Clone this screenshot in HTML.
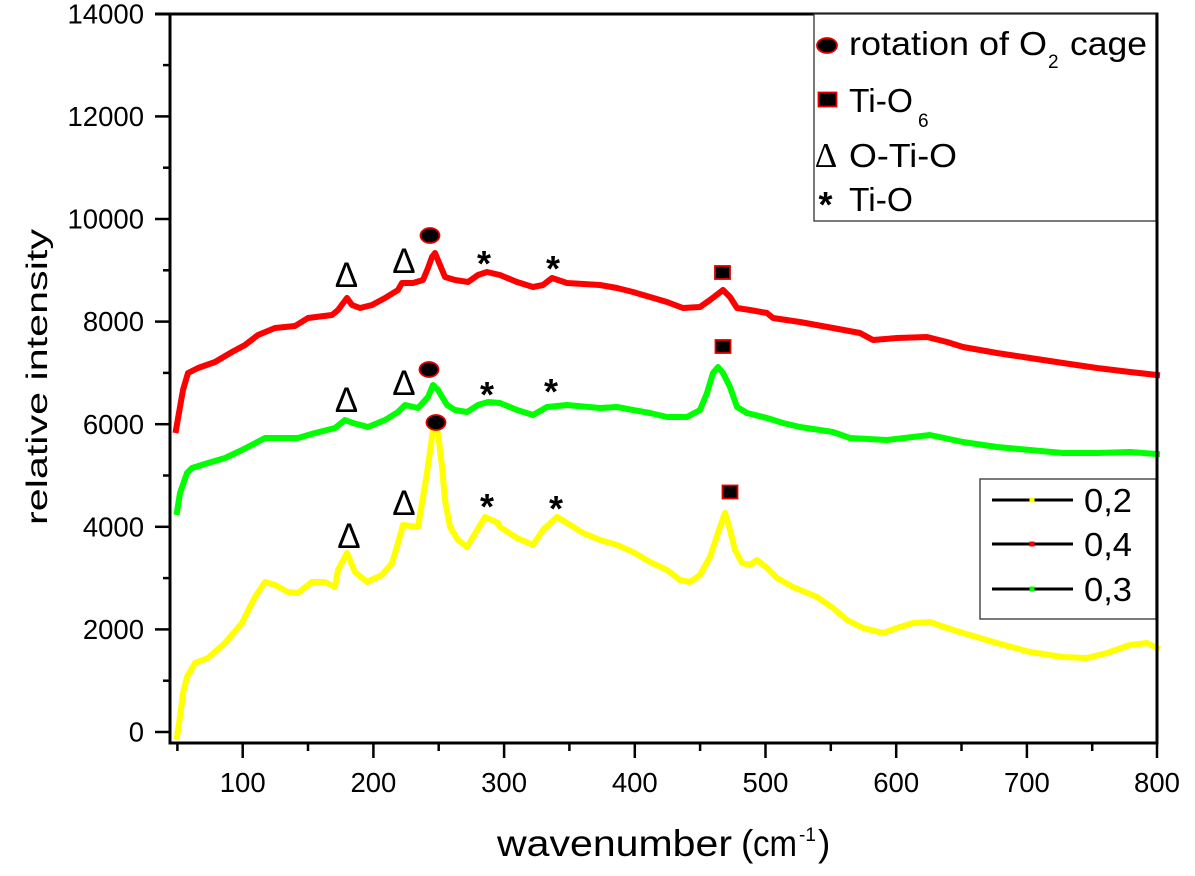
<!DOCTYPE html>
<html><head><meta charset="utf-8"><style>
html,body{margin:0;padding:0;background:#fff;}
svg{display:block;}
text{font-family:"Liberation Sans",Arial,sans-serif;fill:#000;}
</style></head><body>
<svg width="1195" height="876" viewBox="0 0 1195 876" xmlns="http://www.w3.org/2000/svg">
<rect width="1195" height="876" fill="#fff"/>

<!-- curves -->
<g fill="none" stroke-width="6" stroke-linejoin="round" stroke-linecap="square">
<polyline stroke="#ff0000" points="176,430 180,407 183,390 188,373 198,368 215,362 232,352 245,345 258,335 275,328 295,326 308,318 332,315 338,310 347,298 352,305 360,308 372,305 385,298 398,290 402,283 413,283 423,280 428,268 432,257 435,253 440,265 445,277 455,280 468,282 478,275 487,272 500,275 517,282 533,287 543,285 552,278 567,283 600,285 617,288 633,292 650,297 667,302 683,308 700,307 710,300 723,290 730,297 737,308 750,310 767,313 773,318 800,322 833,328 860,333 873,340 897,338 927,337 947,342 963,347 997,353 1030,358 1063,363 1097,368 1130,372 1157,375"/>
<polyline stroke="#00ff00" points="177,512 180,493 187,473 192,468 208,463 225,458 242,450 265,438 282,438 298,438 315,433 335,428 345,420 353,423 368,427 385,420 398,412 405,405 418,408 428,397 433,385 438,390 447,405 455,410 467,412 478,405 488,402 500,403 517,410 533,415 547,407 567,405 600,408 617,407 633,410 650,413 667,417 687,417 700,410 707,393 713,373 718,367 723,373 730,387 737,407 747,413 767,418 783,423 800,427 833,432 850,438 887,440 930,435 963,442 997,447 1030,450 1063,453 1097,453 1130,452 1157,454"/>
<polyline stroke="#ffff00" points="177,737 180,717 183,693 187,677 195,663 208,658 225,643 242,623 255,597 265,582 275,585 288,592 298,593 312,582 325,582 335,587 338,570 347,553 355,572 367,582 382,575 392,563 398,543 403,525 418,527 422,503 427,473 432,437 433,430 438,433 442,467 445,500 450,527 458,540 467,547 473,537 485,517 498,523 500,527 517,538 533,545 543,530 557,517 567,523 583,533 600,540 617,545 633,552 650,562 667,570 680,580 690,582 700,575 710,557 720,527 725,513 730,530 735,550 742,563 750,565 757,560 767,568 777,578 793,587 817,597 833,608 847,620 863,628 883,633 897,628 913,623 930,622 947,628 963,633 997,643 1030,652 1063,657 1087,658 1107,653 1130,645 1147,643 1157,648"/>
</g>

<!-- axes frame -->
<g stroke="#000" stroke-width="3" fill="none">
<line x1="170" y1="13" x2="170" y2="744.5"/>
<line x1="168.5" y1="743" x2="1158.5" y2="743"/>
<line x1="155" y1="14" x2="1158.5" y2="14"/>
<line x1="1157" y1="12.5" x2="1157" y2="744.5"/>
</g>
<!-- y ticks -->
<g stroke="#000" stroke-width="2.5">
<line x1="155" y1="732" x2="170" y2="732"/>
<line x1="155" y1="629.4" x2="170" y2="629.4"/>
<line x1="155" y1="526.8" x2="170" y2="526.8"/>
<line x1="155" y1="424.2" x2="170" y2="424.2"/>
<line x1="155" y1="321.6" x2="170" y2="321.6"/>
<line x1="155" y1="219" x2="170" y2="219"/>
<line x1="155" y1="116.4" x2="170" y2="116.4"/>
<line x1="163" y1="680.7" x2="170" y2="680.7"/>
<line x1="163" y1="578.1" x2="170" y2="578.1"/>
<line x1="163" y1="475.5" x2="170" y2="475.5"/>
<line x1="163" y1="372.9" x2="170" y2="372.9"/>
<line x1="163" y1="270.3" x2="170" y2="270.3"/>
<line x1="163" y1="167.7" x2="170" y2="167.7"/>
<line x1="163" y1="65.1" x2="170" y2="65.1"/>
</g>
<!-- x ticks -->
<g stroke="#000" stroke-width="2.5">
<line x1="242.7" y1="743" x2="242.7" y2="758"/>
<line x1="373.4" y1="743" x2="373.4" y2="758"/>
<line x1="504.1" y1="743" x2="504.1" y2="758"/>
<line x1="634.8" y1="743" x2="634.8" y2="758"/>
<line x1="765.5" y1="743" x2="765.5" y2="758"/>
<line x1="896.2" y1="743" x2="896.2" y2="758"/>
<line x1="1026.9" y1="743" x2="1026.9" y2="758"/>
<line x1="1157" y1="743" x2="1157" y2="758"/>
<line x1="177.4" y1="743" x2="177.4" y2="751"/>
<line x1="308" y1="743" x2="308" y2="751"/>
<line x1="438.7" y1="743" x2="438.7" y2="751"/>
<line x1="569.4" y1="743" x2="569.4" y2="751"/>
<line x1="700.1" y1="743" x2="700.1" y2="751"/>
<line x1="830.8" y1="743" x2="830.8" y2="751"/>
<line x1="961.5" y1="743" x2="961.5" y2="751"/>
<line x1="1092.2" y1="743" x2="1092.2" y2="751"/>
</g>

<!-- y tick labels -->
<g font-size="27.5" text-anchor="end">
<text x="144" y="741.5">0</text>
<text x="144" y="639">2000</text>
<text x="144" y="536.5">4000</text>
<text x="144" y="434">6000</text>
<text x="144" y="331">8000</text>
<text x="144" y="228.5">10000</text>
<text x="144" y="126">12000</text>
<text x="144" y="23.5">14000</text>
</g>
<!-- x tick labels -->
<g font-size="27.5" text-anchor="middle">
<text x="242.7" y="792">100</text>
<text x="373.4" y="792">200</text>
<text x="504.1" y="792">300</text>
<text x="634.8" y="792">400</text>
<text x="765.5" y="792">500</text>
<text x="896.2" y="792">600</text>
<text x="1026.9" y="792">700</text>
<text x="1157" y="792">800</text>
</g>

<!-- axis titles -->
<text transform="translate(47,377) rotate(-90)" font-size="30" text-anchor="middle" textLength="296" lengthAdjust="spacingAndGlyphs">relative intensity</text>
<text x="497" y="856" font-size="37" textLength="235" lengthAdjust="spacingAndGlyphs">wavenumber</text>
<text x="741" y="856" font-size="37">(</text>
<text x="753" y="856" font-size="37" textLength="44" lengthAdjust="spacingAndGlyphs">cm</text>
<text x="799" y="841" font-size="19">-1</text>
<text x="818" y="856" font-size="37">)</text>

<!-- annotations: delta -->
<g font-size="35" text-anchor="middle" style="font-family:'Liberation Serif',serif">
<text x="346.5" y="287">Δ</text>
<text x="404" y="273">Δ</text>
<text x="346.5" y="412">Δ</text>
<text x="404" y="395">Δ</text>
<text x="349" y="548">Δ</text>
<text x="404" y="515">Δ</text>
</g>
<!-- annotations: stars -->
<g font-size="36" font-weight="bold" text-anchor="middle">
<text x="484" y="276">*</text>
<text x="553" y="281">*</text>
<text x="487" y="407">*</text>
<text x="551" y="404">*</text>
<text x="487" y="519">*</text>
<text x="556" y="521">*</text>
</g>
<!-- annotations: ellipses / squares -->
<g fill="#000" stroke="#e00000" stroke-width="1.8">
<ellipse cx="430" cy="235.5" rx="9.5" ry="7.5"/>
<ellipse cx="429" cy="369.5" rx="9.5" ry="7.5"/>
<ellipse cx="436" cy="422.5" rx="9.5" ry="7.5"/>
<rect x="715" y="266" width="15" height="13"/>
<rect x="715.5" y="340" width="15" height="13"/>
<rect x="722.5" y="485.5" width="15" height="13"/>
</g>

<!-- legend 1 -->
<rect x="814" y="14" width="342" height="207" fill="#fff" stroke="#333" stroke-width="1.3"/>
<line x1="1157" y1="12.5" x2="1157" y2="222" stroke="#000" stroke-width="3"/>
<ellipse cx="827" cy="45.5" rx="10" ry="7.5" fill="#000" stroke="#e00000" stroke-width="1.8"/>
<rect x="818.5" y="92.5" width="18" height="14" fill="#000" stroke="#e00000" stroke-width="1.8"/>
<text x="826" y="167" font-size="35" text-anchor="middle" style="font-family:'Liberation Serif',serif">Δ</text>
<text x="825.5" y="217" font-size="36" font-weight="bold" text-anchor="middle">*</text>
<g font-size="33">
<text x="849" y="55" textLength="198" lengthAdjust="spacingAndGlyphs">rotation of O</text>
<text x="1048" y="68" font-size="19">2</text>
<text x="1070" y="55" textLength="77" lengthAdjust="spacingAndGlyphs">cage</text>
<text x="849" y="112" textLength="64" lengthAdjust="spacingAndGlyphs">Ti-O</text>
<text x="918" y="127" font-size="19">6</text>
<text x="849" y="167" textLength="108" lengthAdjust="spacingAndGlyphs">O-Ti-O</text>
<text x="849" y="211" textLength="64" lengthAdjust="spacingAndGlyphs">Ti-O</text>
</g>

<!-- legend 2 -->
<rect x="980" y="479" width="176" height="140" fill="#fff" stroke="#333" stroke-width="1.3"/>
<line x1="1157" y1="478" x2="1157" y2="620" stroke="#000" stroke-width="3"/>
<g stroke="#000" stroke-width="3">
<line x1="992" y1="500" x2="1073" y2="500"/>
<line x1="992" y1="544" x2="1073" y2="544"/>
<line x1="992" y1="589" x2="1073" y2="589"/>
</g>
<rect x="1029.5" y="497.5" width="5" height="5" fill="#ffff00"/>
<rect x="1029.5" y="541.5" width="5" height="5" fill="#ff0000"/>
<rect x="1029.5" y="586.5" width="5" height="5" fill="#00ff00"/>
<g font-size="33">
<text x="1084" y="512" textLength="48" lengthAdjust="spacingAndGlyphs">0,2</text>
<text x="1084" y="556" textLength="48" lengthAdjust="spacingAndGlyphs">0,4</text>
<text x="1084" y="601" textLength="48" lengthAdjust="spacingAndGlyphs">0,3</text>
</g>
</svg>
</body></html>
